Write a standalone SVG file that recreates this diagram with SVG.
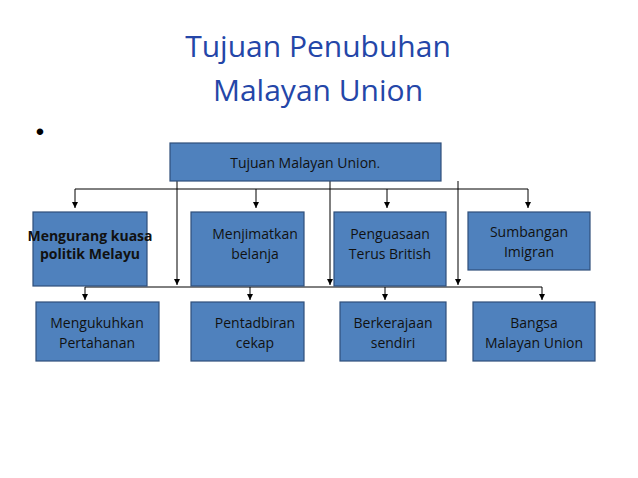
<svg xmlns="http://www.w3.org/2000/svg" width="638" height="478" viewBox="0 0 638 478">
<defs>
<style>
.b{fill:#4f81bd;stroke:#2f4f7a;stroke-width:1.2}
.t{font-family:"Open Sans","Liberation Sans",sans-serif;font-size:14px;fill:#111;text-anchor:middle}
.c{stroke:#000;stroke-width:1;fill:none}
</style>
<marker id="a" markerWidth="8" markerHeight="8" refX="6" refY="3" orient="auto" markerUnits="userSpaceOnUse"><path d="M0,0L6,3L0,6z" fill="#000"/></marker>
</defs>
<rect width="638" height="478" fill="#fff"/>
<g id="title" font-family="Open Sans,Liberation Sans,sans-serif" font-size="30" fill="#2446a8" text-anchor="middle">
<text x="318" y="57">Tujuan Penubuhan</text>
<text x="318" y="101">Malayan Union</text>
</g>
<text x="40" y="140" font-family="Liberation Sans,sans-serif" font-size="24" text-anchor="middle">•</text>
<g id="connectors" class="c">
<path d="M75,189H528"/>
<path d="M75,189V208" marker-end="url(#a)"/>
<path d="M256,189V208" marker-end="url(#a)"/>
<path d="M387,189V208" marker-end="url(#a)"/>
<path d="M528,189V208" marker-end="url(#a)"/>
<path d="M177,181V285" marker-end="url(#a)"/>
<path d="M330,181V285" marker-end="url(#a)"/>
<path d="M458,181V285" marker-end="url(#a)"/>
<path d="M85,287H542"/>
<path d="M85,287V300" marker-end="url(#a)"/>
<path d="M250,287V300" marker-end="url(#a)"/>
<path d="M385,287V300" marker-end="url(#a)"/>
<path d="M542,287V300" marker-end="url(#a)"/>
</g>
<g id="root"><rect class="b" x="170" y="143" width="271" height="38"/><text class="t" x="305" y="168" font-size="17">Tujuan Malayan Union<tspan font-size="12">.</tspan></text></g>
<g id="n1"><rect class="b" x="33" y="212" width="114" height="74"/><text class="t" x="90" y="241" font-size="11.5" font-weight="bold">Mengurang kuasa</text><text class="t" x="90" y="259" font-size="11.5" font-weight="bold">politik Melayu</text></g>
<g id="n2"><rect class="b" x="191" y="212" width="113" height="74"/><text class="t" x="255" y="239">Menjimatkan</text><text class="t" x="255" y="259">belanja</text></g>
<g id="n3"><rect class="b" x="334" y="212" width="112" height="74"/><text class="t" x="390" y="239">Penguasaan</text><text class="t" x="390" y="259">Terus British</text></g>
<g id="n4"><rect class="b" x="468" y="212" width="122" height="58"/><text class="t" x="529" y="237">Sumbangan</text><text class="t" x="529" y="257">Imigran</text></g>
<g id="n5"><rect class="b" x="36" y="302" width="123" height="59"/><text class="t" x="97" y="328">Mengukuhkan</text><text class="t" x="97" y="348">Pertahanan</text></g>
<g id="n6"><rect class="b" x="191" y="302" width="113" height="59"/><text class="t" x="255" y="328">Pentadbiran</text><text class="t" x="255" y="348">cekap</text></g>
<g id="n7"><rect class="b" x="340" y="302" width="106" height="59"/><text class="t" x="393" y="328">Berkerajaan</text><text class="t" x="393" y="348">sendiri</text></g>
<g id="n8"><rect class="b" x="473" y="302" width="122" height="59"/><text class="t" x="534" y="328">Bangsa</text><text class="t" x="534" y="348">Malayan Union</text></g>
</svg>
